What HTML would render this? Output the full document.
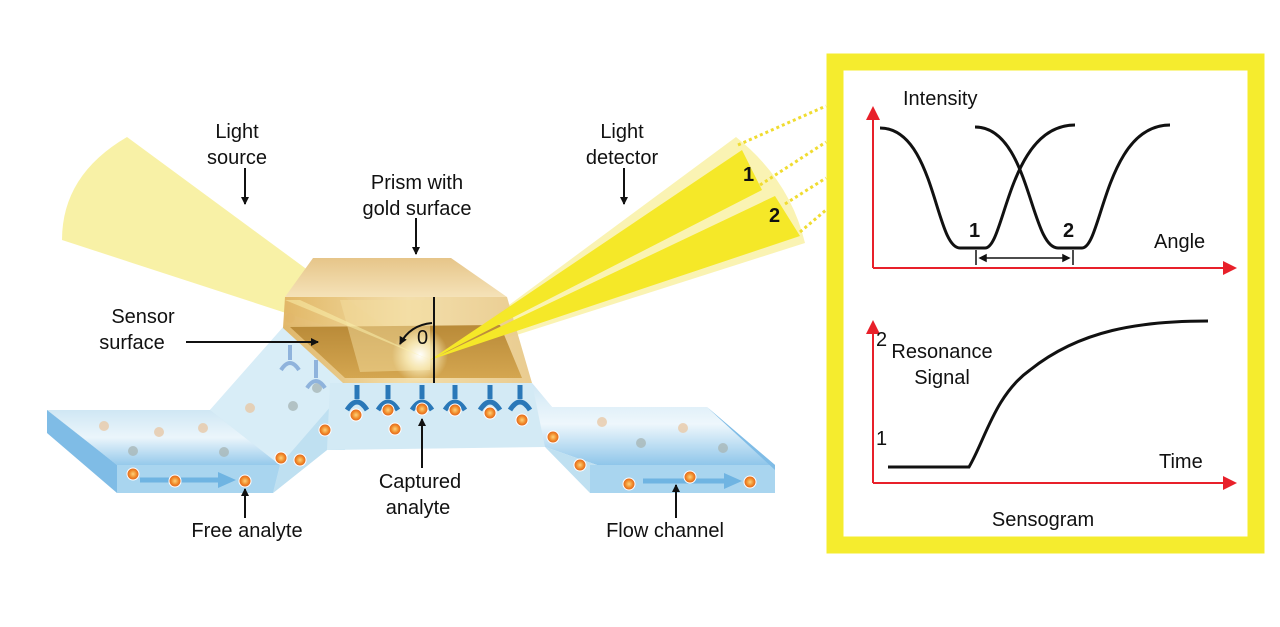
<!DOCTYPE html>
<html><head><meta charset="utf-8"><style>
html,body{margin:0;padding:0;background:#fff;}
svg{display:block;}
text{font-family:"Liberation Sans",sans-serif;font-size:20px;fill:#111;}
</style></head><body>
<svg width="1280" height="627" viewBox="0 0 1280 627" xmlns="http://www.w3.org/2000/svg">
<defs>
<linearGradient id="prTop" x1="0" y1="0" x2="0" y2="1"><stop offset="0" stop-color="#e6c589"/><stop offset="1" stop-color="#f5e2b8"/></linearGradient>
<linearGradient id="prBody" x1="0" y1="0" x2="1" y2="0"><stop offset="0" stop-color="#e0b463"/><stop offset="0.5" stop-color="#f2dca6"/><stop offset="1" stop-color="#e8c98a"/></linearGradient>
<linearGradient id="sens" x1="0" y1="0" x2="0" y2="1"><stop offset="0" stop-color="#b98a38"/><stop offset="1" stop-color="#d4a650"/></linearGradient>
<radialGradient id="glow"><stop offset="0" stop-color="#fff"/><stop offset="0.5" stop-color="#fff6c8" stop-opacity="0.7"/><stop offset="1" stop-color="#fff6c8" stop-opacity="0"/></radialGradient>
<linearGradient id="slabTop" x1="0" y1="0" x2="0" y2="1"><stop offset="0" stop-color="#cfe7f4"/><stop offset="0.5" stop-color="#eef7fc"/><stop offset="1" stop-color="#8fc6ea"/></linearGradient>
<radialGradient id="ball"><stop offset="0" stop-color="#ffd27a"/><stop offset="0.6" stop-color="#f08a2a"/><stop offset="1" stop-color="#e0601a"/></radialGradient>
<marker id="ah" markerWidth="8" markerHeight="8" refX="7" refY="4" orient="auto" markerUnits="userSpaceOnUse"><path d="M0,0 L8,4 L0,8 z" fill="#111"/></marker>
<marker id="rh" markerWidth="14" markerHeight="14" refX="12" refY="7" orient="auto" markerUnits="userSpaceOnUse"><path d="M0,0 L14,7 L0,14 z" fill="#e8202a"/></marker>
</defs>

<!-- light source beam -->
<path d="M127,137 Q62,175 62,240 L430,360 Z" fill="#f7f09c" opacity="0.9"/>
<!-- detector wide beam -->
<path d="M432,362 L736,137 Q790,180 805,243 Z" fill="#f8ef9a" opacity="0.75"/>

<!-- flow channel -->
<path d="M47,410 L210,410 L285,325 L345,325 L345,450 L327,450 L273,493 L117,493 L117,465 L47,410 Z" fill="#cfe6f3"/>
<path d="M47,410 L210,410 L280,465 L117,465 Z" fill="url(#slabTop)" opacity="0.9"/>
<path d="M210,410 L285,325 L345,325 L345,390 L280,465 Z" fill="#d8edf7"/>
<path d="M47,410 L117,465 L117,493 L47,433 Z" fill="#7fbce6"/>
<path d="M117,465 L280,465 L273,493 L117,493 Z" fill="#a9d5ef"/>
<path d="M280,465 L345,390 L345,450 L327,450 L273,493 Z" fill="#bfe0f1"/>
<path d="M330,383 L532,383 L552,407 L545,447 L327,450 Z" fill="#d3eaf5"/>
<path d="M532,383 L552,407 L707,407 L775,465 L597,465 L545,447 Z" fill="url(#slabTop)"/>
<path d="M545,447 L597,465 L590,493 Z" fill="#bfe0f1"/>
<path d="M590,465 L775,465 L775,493 L590,493 Z" fill="#a9d5ef"/>
<path d="M707,407 L775,465 L775,470 Z" fill="#7fbce6"/>
<!-- flow arrows -->
<path d="M140,480 L222,480" stroke="#6fb4e2" stroke-width="5"/><path d="M218,472 L236,480 L218,488 Z" fill="#6fb4e2"/>
<path d="M643,481 L728,481" stroke="#6fb4e2" stroke-width="5"/><path d="M724,473 L742,481 L724,489 Z" fill="#6fb4e2"/>

<!-- faded analytes -->
<g fill="#e8c9a8" opacity="0.8">
<circle cx="104" cy="426" r="5"/><circle cx="159" cy="432" r="5"/><circle cx="203" cy="428" r="5"/><circle cx="250" cy="408" r="5"/><circle cx="290" cy="318" r="5"/><circle cx="602" cy="422" r="5"/><circle cx="683" cy="428" r="5"/>
</g>
<g fill="#a9b8b8" opacity="0.8">
<circle cx="133" cy="451" r="5"/><circle cx="224" cy="452" r="5"/><circle cx="293" cy="406" r="5"/><circle cx="317" cy="388" r="5"/><circle cx="641" cy="443" r="5"/><circle cx="723" cy="448" r="5"/>
</g>
<!-- faded antibodies -->
<g stroke="#8fb3dc" stroke-width="4" fill="none">
<path d="M290,345 L290,360 M281,370 Q290,356 299,370"/><path d="M316,360 L316,378 M307,388 Q316,374 325,388"/>
</g>

<!-- prism -->
<path d="M285,297 L507,297 L532,383 L343,383 L283,328 Z" fill="url(#prBody)" opacity="0.95"/>
<path d="M313,258 L451,258 L507,297 L285,297 Z" fill="url(#prTop)"/>
<path d="M290,327 L500,325 L522,378 L345,378 Z" fill="url(#sens)"/>
<path d="M340,300 L430,300 L430,370 L360,372 Z" fill="#f3dda0" opacity="0.5"/>
<circle cx="420" cy="355" r="28" fill="url(#glow)"/>
<path d="M285,300 L430,360 L300,300 Z" fill="#fbf3b0" opacity="0.5"/>

<!-- bright detector beams -->
<path d="M430,360 L742,150 L762,190 Z" fill="#f5e828"/>
<path d="M430,360 L775,196 L800,236 Z" fill="#f5e828"/>
<!-- dotted -->
<g stroke="#f0dc30" stroke-width="3" stroke-dasharray="3 3">
<line x1="738" y1="145" x2="826" y2="106"/><line x1="760" y1="185" x2="826" y2="142"/>
<line x1="785" y1="204" x2="826" y2="178"/><line x1="800" y1="232" x2="826" y2="210"/>
</g>
<text x="743" y="181" font-weight="bold" font-size="19">1</text>
<text x="769" y="222" font-weight="bold" font-size="19">2</text>

<!-- normal line & angle -->
<line x1="434" y1="297" x2="434" y2="383" stroke="#111" stroke-width="2"/>
<path d="M432,323 Q410,325 400,344" stroke="#111" stroke-width="2" fill="none" marker-end="url(#ah)"/>
<text x="417" y="344" font-size="17">0</text>

<!-- antibodies -->
<g stroke="#2a78b8" stroke-width="5" fill="none">
<path d="M357,385 L357,399 M347,410 Q357,394 367,410"/>
<path d="M388,385 L388,399 M378,410 Q388,394 398,410"/>
<path d="M422,385 L422,399 M412,410 Q422,394 432,410"/>
<path d="M455,385 L455,399 M445,410 Q455,394 465,410"/>
<path d="M490,385 L490,399 M480,410 Q490,394 500,410"/>
<path d="M520,385 L520,399 M510,410 Q520,394 530,410"/>
</g>
<!-- orange analytes -->
<g fill="url(#ball)" stroke="#fff" stroke-width="1">
<circle cx="356" cy="415" r="6"/><circle cx="388" cy="410" r="6"/><circle cx="422" cy="409" r="6"/><circle cx="455" cy="410" r="6"/><circle cx="490" cy="413" r="6"/><circle cx="522" cy="420" r="6"/>
<circle cx="325" cy="430" r="6"/><circle cx="395" cy="429" r="6"/><circle cx="553" cy="437" r="6"/><circle cx="580" cy="465" r="6"/><circle cx="300" cy="460" r="6"/><circle cx="281" cy="458" r="6"/>
<circle cx="133" cy="474" r="6"/><circle cx="175" cy="481" r="6"/><circle cx="245" cy="481" r="6"/>
<circle cx="629" cy="484" r="6"/><circle cx="690" cy="477" r="6"/><circle cx="750" cy="482" r="6"/>
</g>

<!-- labels -->
<g text-anchor="middle">
<text x="237" y="138">Light</text><text x="237" y="164">source</text>
<text x="417" y="189">Prism with</text><text x="417" y="215">gold surface</text>
<text x="622" y="138">Light</text><text x="622" y="164">detector</text>
<text x="143" y="323">Sensor</text><text x="132" y="349">surface</text>
<text x="420" y="488">Captured</text><text x="418" y="514">analyte</text>
<text x="247" y="537">Free analyte</text>
<text x="665" y="537">Flow channel</text>
</g>
<g stroke="#111" stroke-width="2" fill="none">
<line x1="245" y1="168" x2="245" y2="204" marker-end="url(#ah)"/>
<line x1="416" y1="218" x2="416" y2="254" marker-end="url(#ah)"/>
<line x1="624" y1="168" x2="624" y2="204" marker-end="url(#ah)"/>
<line x1="186" y1="342" x2="318" y2="342" marker-end="url(#ah)"/>
<line x1="422" y1="468" x2="422" y2="419" marker-end="url(#ah)"/>
<line x1="245" y1="518" x2="245" y2="489" marker-end="url(#ah)"/>
<line x1="676" y1="518" x2="676" y2="485" marker-end="url(#ah)"/>
</g>

<!-- right panel -->
<rect x="835" y="62" width="421" height="483" fill="#fff" stroke="#f5ec2e" stroke-width="17"/>
<g stroke="#e8202a" stroke-width="2" fill="none">
<line x1="873" y1="268" x2="873" y2="108" marker-end="url(#rh)"/>
<line x1="873" y1="268" x2="1235" y2="268" marker-end="url(#rh)"/>
<line x1="873" y1="483" x2="873" y2="322" marker-end="url(#rh)"/>
<line x1="873" y1="483" x2="1235" y2="483" marker-end="url(#rh)"/>
</g>
<g stroke="#111" stroke-width="3" fill="none">
<path d="M880,128 C935,128 935,248 960,248 L985,248 C1005,248 1008,125 1075,125"/>
<path d="M975,127 C1030,127 1030,248 1058,248 L1082,248 C1102,248 1105,125 1170,125"/>
<path d="M888,467 L969,467 C985,440 995,395 1030,370 C1080,330 1140,321 1208,321"/>
</g>
<g stroke="#111" stroke-width="1.5">
<line x1="976" y1="250" x2="976" y2="265"/><line x1="1073" y1="250" x2="1073" y2="265"/>
<line x1="980" y1="258" x2="1069" y2="258"/>
<path d="M980,258 L986,255 L986,261 Z M1069,258 L1063,255 L1063,261 Z" fill="#111"/>
</g>
<text x="903" y="105">Intensity</text>
<text x="1154" y="248">Angle</text>
<text x="969" y="237" font-weight="bold">1</text>
<text x="1063" y="237" font-weight="bold">2</text>
<text x="876" y="346">2</text>
<text x="942" y="358" text-anchor="middle">Resonance</text>
<text x="942" y="384" text-anchor="middle">Signal</text>
<text x="876" y="445">1</text>
<text x="1159" y="468">Time</text>
<text x="1043" y="526" text-anchor="middle">Sensogram</text>
</svg>
</body></html>
